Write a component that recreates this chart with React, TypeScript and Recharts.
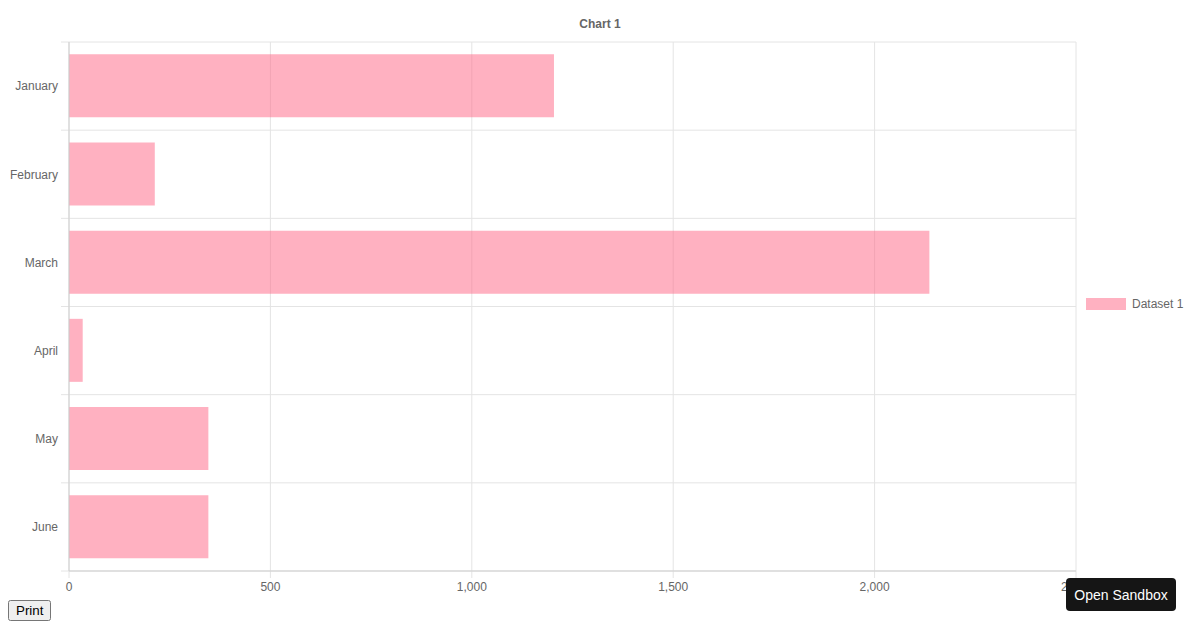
import { BarChart, Bar, XAxis, YAxis, CartesianGrid, Legend } from 'recharts';

const months = ['January', 'February', 'March', 'April', 'May', 'June'];
const dataset1 = [1204, 213, 2136, 34, 346, 346];
const xTicks = [0, 500, 1000, 1500, 2000, 2500];

const data = months.map((month, i) => ({ month, value: dataset1[i] }));

const FONT = '"Liberation Sans", Arial, Helvetica, sans-serif';
const TEXT = '#666';
const GRID = '#e4e4e4';
const AXIS = '#cfcfcf';
const PINK = 'rgba(255, 99, 132, 0.5)';

function LegendContent() {
  return (
    <div style={{ display: 'flex', alignItems: 'center', paddingLeft: 10, fontFamily: FONT }}>
      <span style={{ width: 40, height: 12, background: PINK, display: 'inline-block' }} />
      <span style={{ marginLeft: 6, fontSize: 12, color: TEXT }}>Dataset 1</span>
    </div>
  );
}

export default function App() {
  return (
    <div>
      <div style={{ position: 'relative', width: 1184, height: 592 }}>
        <div
          style={{
            position: 'absolute',
            top: 9,
            left: 0,
            width: 1184,
            textAlign: 'center',
            fontFamily: FONT,
            fontSize: 12,
            fontWeight: 'bold',
            color: TEXT,
          }}
        >
          Chart 1
        </div>
        <BarChart
          width={1184}
          height={592}
          data={data}
          layout="vertical"
          margin={{ top: 34, right: 6, bottom: 0, left: 0 }}
          barCategoryGap="14%"
        >
          <CartesianGrid
            stroke={GRID}
            horizontalCoordinatesGenerator={({ offset }: any) =>
              Array.from({ length: months.length + 1 }, (_, i) => offset.top + (i * offset.height) / months.length)
            }
            horizontal={(p: any) => (
              <line key={p.key} x1={p.x1 - 8} x2={p.x2} y1={p.y1} y2={p.y2} stroke={GRID} />
            )}
            vertical={(p: any) => (
              <line key={p.key} x1={p.x1} x2={p.x2} y1={p.y1} y2={p.y2 + 7} stroke={GRID} />
            )}
          />
          <XAxis
            type="number"
            domain={[0, 2500]}
            ticks={xTicks}
            tickFormatter={(v: number) => v.toLocaleString('en-US')}
            height={29}
            tickLine={false}
            tickSize={7}
            tickMargin={4}
            axisLine={{ stroke: AXIS }}
            tick={{ fill: TEXT, fontSize: 12, fontFamily: FONT }}
          />
          <YAxis
            type="category"
            dataKey="month"
            width={61}
            tickLine={false}
            tickSize={0}
            tickMargin={11}
            axisLine={{ stroke: AXIS }}
            tick={{ fill: TEXT, fontSize: 12, fontFamily: FONT }}
          />
          <Legend
            layout="vertical"
            align="right"
            verticalAlign="middle"
            content={<LegendContent />}
            wrapperStyle={{ width: 110 }}
          />
          <Bar dataKey="value" name="Dataset 1" fill={PINK} isAnimationActive={false} />
        </BarChart>
      </div>
      <button>Print</button>
      <div
        style={{
          position: 'fixed',
          right: 24,
          bottom: 19,
          width: 110,
          height: 33,
          background: '#151515',
          color: '#fff',
          borderRadius: 4,
          display: 'flex',
          alignItems: 'center',
          justifyContent: 'center',
          fontFamily: FONT,
          fontSize: 14,
        }}
      >
        Open Sandbox
      </div>
    </div>
  );
}
